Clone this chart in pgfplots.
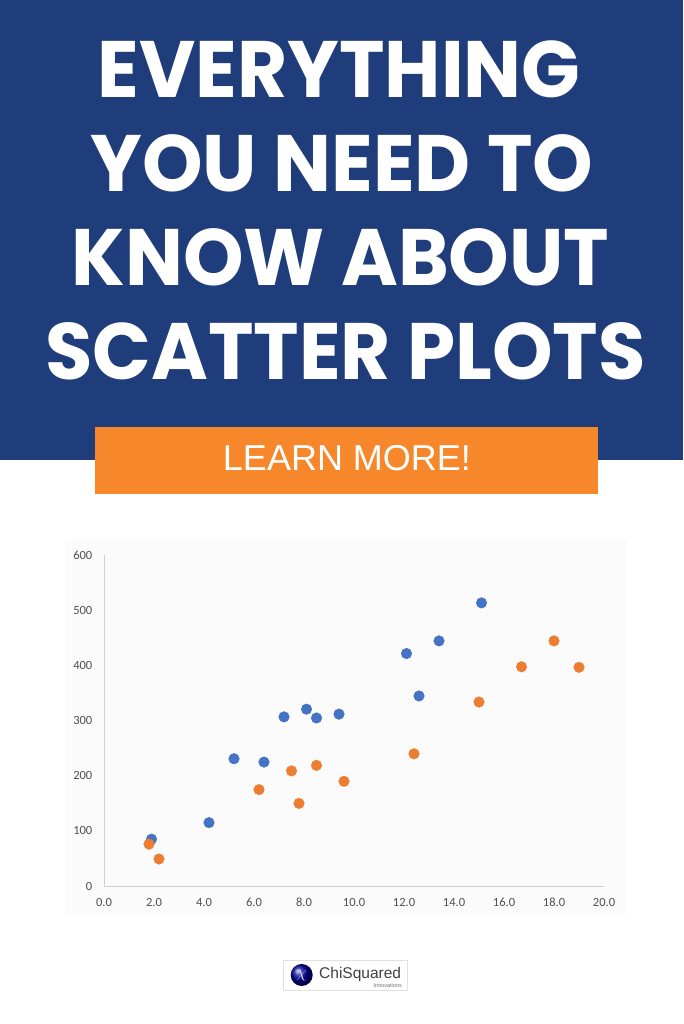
\documentclass[border=0pt]{standalone}
\usepackage{pgfplots}
\pgfplotsset{compat=1.18}
\usepackage{fontspec}
\setmainfont{Carlito}
\newfontfamily\poppins{Poppins}
\newfontfamily\libsans{Liberation Sans}
\definecolor{banner}{RGB}{31,61,122}
\definecolor{btn}{RGB}{246,135,42}
\definecolor{sblue}{RGB}{68,114,196}
\definecolor{sorange}{RGB}{237,125,49}
\definecolor{ticktxt}{RGB}{80,80,80}
\definecolor{axisgray}{RGB}{208,208,208}
\begin{document}
\begin{tikzpicture}[x=1pt,y=1pt]
% page
\fill[white] (0,0) rectangle (683,1024);
\fill[banner] (0,564) rectangle (683,1024);
\fill[btn] (95,530) rectangle (598,597);
% title
\begin{scope}[every node/.style={text=white,anchor=base,inner sep=0pt,xscale=0.963,font=\poppins\bfseries\fontsize{80}{94}\selectfont}]
\node at (339,926) {EVERYTHING};
\node at (342,832) {YOU NEED TO};
\node at (340.5,738) {KNOW ABOUT};
\node at (345.5,644) {SCATTER PLOTS};
\end{scope}
\node[text=white,anchor=base,inner sep=0pt,font=\libsans\fontsize{36}{40}\selectfont] at (347,553) {LEARN MORE!};
% chart background
\fill[black!1.5] (65,109) rectangle (627,484);
\begin{axis}[
  at={(104pt,138pt)}, anchor=south west,
  scale only axis, width=500pt, height=330.5pt,
  xmin=0, xmax=20, ymin=0, ymax=600,
  xtick={0,2,...,20}, ytick={0,100,...,600},
  axis lines*=left,
  axis line style={draw=axisgray, line width=0.8pt},
  major tick length=0pt,
  tick style={draw=none},
  /pgf/number format/assume math mode=true,
  every tick label/.append style={inner sep=0pt, text=ticktxt, font=\fontsize{12.5}{13}\selectfont},
  xticklabel style={anchor=base, yshift=-20.5pt, /pgf/number format/.cd, fixed, fixed zerofill, precision=1},
  yticklabel style={anchor=east, xshift=-11.5pt},
  clip=false,
]
\addplot[only marks, mark=*, mark size=5.3pt, draw=sblue, fill=sblue] coordinates {
(1.9,85) (4.2,115) (5.2,231) (6.4,225) (7.2,307) (8.1,321) (8.5,305) (9.4,312)
(12.1,422) (12.6,345) (13.4,445) (15.1,514)
};
\addplot[only marks, mark=*, mark size=5.3pt, draw=sorange, fill=sorange] coordinates {
(1.8,76) (2.2,49) (6.2,175) (7.5,209) (7.8,150) (8.5,219) (9.6,190)
(12.4,240) (15.0,334) (16.7,398) (18.0,445) (19.0,397)
};
\end{axis}
% logo
\draw[black!12, fill=white] (283,34) rectangle (407,64);
\shade[ball color=blue!60!black] (301.7,49) circle (11);
\node[text=white!85!blue, inner sep=0pt, font=\fontsize{16}{16}\selectfont] at (301.7,49) {$\chi$};
\node[anchor=base west, inner sep=0pt, text=black!75, font=\libsans\fontsize{15.5}{16}\selectfont] at (319,45.5) {ChiSquared};
\node[anchor=base east, inner sep=0pt, text=black!55, font=\libsans\fontsize{5.5}{6}\selectfont] at (402,36) {Innovations};
\end{tikzpicture}
\end{document}
